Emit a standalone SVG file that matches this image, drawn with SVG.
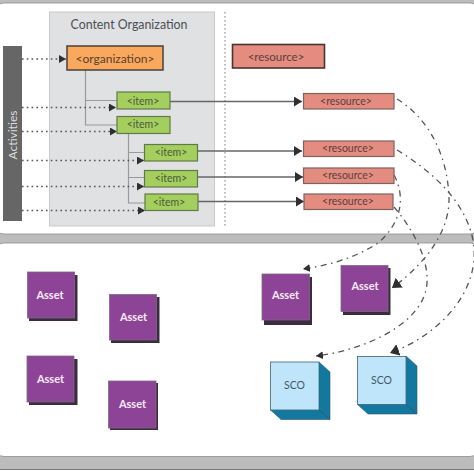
<svg xmlns="http://www.w3.org/2000/svg" width="474" height="474" viewBox="0 0 474 474">
<style>
text{font-family:Lato,"Open Sans",sans-serif;text-anchor:middle}
.item rect{fill:#a4cf5f;stroke:#5f7a45;stroke-width:1.2}
.item text{font-size:10.5px;fill:#4a5a3a}
.res rect{fill:#e38c7f;stroke:#7d6360;stroke-width:1.2}
.res text{font-size:10.5px;fill:#5c3f3e}
.asset .s{fill:#3c2c40}
.asset .f{fill:#8d4496;stroke:#7b6a80;stroke-width:.8}
.asset text{font-size:11px;font-weight:700;fill:#f6eaf6}
.sco .d{fill:#13789f;stroke:#2d5a70;stroke-width:.6}
.sco .f{fill:#bfe5fb;stroke:#3f6478;stroke-width:.8}
.sco text{font-size:10.500px;fill:#43596a}
.tree{fill:none;stroke:#9a9a9a;stroke-width:1.2}
.dot{fill:none;stroke:#555;stroke-width:1.3;stroke-dasharray:1.6 3.2}
.sol{fill:none;stroke:#666;stroke-width:1.4}
.dd{fill:none;stroke:#555;stroke-width:1.3;stroke-dasharray:6 4.500 1.500 4.500}
</style>
<defs>
<marker id="a" markerUnits="userSpaceOnUse" markerWidth="10" markerHeight="10" refX="7" refY="4" orient="auto"><path d="M0 0L7 4L0 8Z" fill="#2f2f2f"/></marker>
<marker id="b" markerUnits="userSpaceOnUse" markerWidth="11" markerHeight="12" refX="8" refY="5" orient="auto"><path d="M0 0L8 5L0 10Z" fill="#2f2f2f"/></marker>
<marker id="c" markerUnits="userSpaceOnUse" markerWidth="13" markerHeight="14" refX="9" refY="6" orient="auto"><path d="M0 0L9 6L0 12Z" fill="#2f2f2f"/></marker>
</defs>
<rect width="474" height="474" fill="#fff"/>
<rect y="0" width="474" height="469.500" fill="#bcbcbc"/>
<rect x="-8" y="3" width="490" height="231" rx="12" fill="#fff" stroke="#8e8e8e" stroke-width=".8"/>
<rect x="-8" y="243" width="490" height="213.500" rx="12" fill="#fff" stroke="#8e8e8e" stroke-width=".8"/>
<path d="M0 469.500H474" stroke="#777" stroke-width="1"/>
<path d="M225 12V226" stroke="#777" stroke-width="1" stroke-dasharray="1.500 2.500" fill="none"/>
<g id="content-organization"><rect x="49.500" y="12" width="165" height="214" fill="#e0e1e3" stroke="#c9c9c9"/><text x="129" y="29" font-size="13" textLength="117" lengthAdjust="spacingAndGlyphs" fill="#4a4f55">Content Organization</text></g>
<g id="activities"><rect x="3" y="46" width="19" height="175" fill="#666"/><text transform="translate(16.500 135) rotate(-90)" font-size="12" fill="#ddd">Activities</text></g>
<g id="connectors">
<path class="tree" d="M85.500 70V125H117M85.500 100.500H117M128.500 133V203H145M128.500 152.500H144M128.500 177.500H144"/>
<path class="dot" marker-end="url(#a)" d="M22 59H66"/>
<path class="dot" marker-end="url(#a)" d="M22 107.500H116"/>
<path class="dot" marker-end="url(#a)" d="M22 131.500H117"/>
<path class="dot" marker-end="url(#a)" d="M22 160.500H144"/>
<path class="dot" marker-end="url(#a)" d="M22 186.500H144"/>
<path class="dot" marker-end="url(#a)" d="M22 210.500H145"/>
<path class="sol" marker-end="url(#b)" d="M170 101.500H302"/>
<path class="sol" marker-end="url(#b)" d="M198 151H302"/>
<path class="sol" marker-end="url(#b)" d="M198 177H303"/>
<path class="sol" marker-end="url(#b)" d="M198 201.500H304"/>
<path class="dd" marker-end="url(#c)" d="M397 99C425 116 447 150 449 197C450 228 430 260 392 288"/>
<path class="dd" marker-end="url(#c)" d="M397 150C430 170 465 200 473 240C482 290 440 335 390 353"/>
<path class="dd" marker-end="url(#a)" d="M394 175C405 195 403 222 378 243C355 258 330 265 303 269"/>
<path class="dd" marker-end="url(#a)" d="M394 207C412 228 432 262 426 290C418 325 365 350 316 356"/>
</g>
<g id="organization"><rect x="67" y="46" width="96" height="24" fill="#f9a85d" stroke="#4a4038" stroke-width="1.500"/><text x="115" y="63" font-size="12" fill="#5a4030">&lt;organization&gt;</text></g>
<g id="resource-main" class="res"><rect x="232.500" y="44.500" width="92" height="23.500" style="stroke:#4a3533;stroke-width:1.600"/><text x="276" y="61" style="font-size:11.500px">&lt;resource&gt;</text></g>
<g id="item1" class="item"><rect x="117" y="92" width="53" height="17"/><text x="143" y="104.500">&lt;item&gt;</text></g>
<g id="item2" class="item"><rect x="117" y="116.500" width="53" height="17"/><text x="143" y="128">&lt;item&gt;</text></g>
<g id="item3" class="item"><rect x="144.500" y="144.500" width="53" height="16.500"/><text x="171" y="156">&lt;item&gt;</text></g>
<g id="item4" class="item"><rect x="144.500" y="170.500" width="53" height="16.500"/><text x="171" y="182">&lt;item&gt;</text></g>
<g id="item5" class="item"><rect x="145" y="194" width="53" height="16.500"/><text x="169" y="206">&lt;item&gt;</text></g>
<g id="resource1" class="res"><rect x="303.500" y="93.500" width="90.500" height="15.500"/><text x="346" y="104.500">&lt;resource&gt;</text></g>
<g id="resource2" class="res"><rect x="303.500" y="141" width="90.500" height="15.500"/><text x="348" y="151.500">&lt;resource&gt;</text></g>
<g id="resource3" class="res"><rect x="303.500" y="168" width="90.500" height="15.500"/><text x="348" y="178.500">&lt;resource&gt;</text></g>
<g id="resource4" class="res"><rect x="304" y="194" width="89" height="15.500"/><text x="348" y="204.500">&lt;resource&gt;</text></g>
<g id="asset1" class="asset"><rect class="s" x="29" y="275" width="48.500" height="46"/><rect class="f" x="27.500" y="272" width="47" height="46"/><text x="50" y="299">Asset</text></g>
<g id="asset2" class="asset"><rect class="s" x="111" y="297" width="48.500" height="46"/><rect class="f" x="109.500" y="294.500" width="47" height="45.500"/><text x="133.500" y="321">Asset</text></g>
<g id="asset3" class="asset"><rect class="s" x="29" y="359" width="48.500" height="46"/><rect class="f" x="27" y="356" width="47" height="46"/><text x="50.500" y="383">Asset</text></g>
<g id="asset4" class="asset"><rect class="s" x="110" y="383" width="48" height="47"/><rect class="f" x="108.500" y="381" width="47.500" height="47"/><text x="132.500" y="408">Asset</text></g>
<g id="asset5" class="asset"><rect class="s" x="264" y="277" width="48" height="48"/><rect class="f" x="262" y="274" width="47.500" height="46"/><text x="285.500" y="299">Asset</text></g>
<g id="asset6" class="asset"><rect class="s" x="343" y="268" width="47.500" height="47"/><rect class="f" x="341" y="265.500" width="47" height="46"/><text x="365" y="290">Asset</text></g>
<g id="sco1" class="sco"><path class="d" d="M319 362L330 372V419.500H281L270.500 410Z"/><path d="M319 410L330 419.500" stroke="#2d5a70" fill="none"/><rect class="f" x="270.500" y="362" width="48.500" height="48"/><text x="294.500" y="389">SCO</text></g>
<g id="sco2" class="sco"><path class="d" d="M406 356L417 366V414H368L357.500 404.500Z"/><path d="M406 404.500L417 414" stroke="#2d5a70" fill="none"/><rect class="f" x="357.500" y="356.500" width="48.500" height="48"/><text x="381.500" y="384">SCO</text></g>
</svg>
